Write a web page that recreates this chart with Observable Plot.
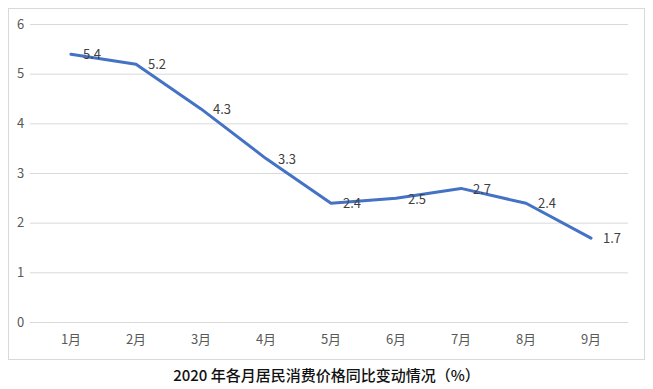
<!DOCTYPE html>
<html><head><meta charset="utf-8">
<script src="https://cdn.jsdelivr.net/npm/d3@7"></script>
<script src="https://cdn.jsdelivr.net/npm/@observablehq/plot@0.6"></script>
<style>
body{margin:0;background:#fff;font-family:"Noto Sans CJK SC","Noto Sans",sans-serif;}
#wrap{position:relative;width:653px;height:389px;overflow:hidden;}
#border{position:absolute;left:8px;top:8px;width:635px;height:350px;border:1px solid #d9d9d9;pointer-events:none;}
#caption{position:absolute;left:0;top:365px;width:653px;text-align:center;font-size:15px;font-weight:500;color:#111;line-height:20px;}
</style></head>
<body>
<div id="wrap"><div id="chart"></div><div id="border"></div>
<div id="caption">2020 年各月居民消费价格同比变动情况（%）</div></div>
<script>
const months = ["1月","2月","3月","4月","5月","6月","7月","8月","9月"];
const cpi = [5.4, 5.2, 4.3, 3.3, 2.4, 2.5, 2.7, 2.4, 1.7];
const yTicks = [0,1,2,3,4,5,6];
const data = months.map((m,i)=>({month:m, value:cpi[i]}));
const chart = Plot.plot({
  width:653, height:360,
  marginLeft:35, marginRight:27, marginTop:24, marginBottom:38,
  style:{fontFamily:'"Noto Sans CJK SC","Noto Sans",sans-serif', fontSize:"12px", color:"#595959", background:"transparent"},
  x:{type:"band", domain:months, padding:0, label:null},
  y:{domain:[0,6], label:null},
  marks:[
    Plot.ruleY(yTicks,{stroke:"#d9d9d9", strokeWidth:1, insetLeft:-5, insetRight:-2}),
    Plot.axisY({ticks:yTicks, tickFormat:d=>String(d), tickSize:0, tickPadding:0, textAnchor:"middle", dx:-15, label:null, fill:"#595959", fontSize:13}),
    Plot.axisX({tickSize:0, tickPadding:12, label:null, fill:"#595959", fontSize:13}),
    Plot.line(data,{x:"month", y:"value", stroke:"#4472C4", strokeWidth:3, strokeLinejoin:"round", strokeLinecap:"round"}),
    Plot.text(data,{x:"month", y:"value", text:d=>d.value.toFixed(1), textAnchor:"start", dx:12, dy:1, fill:"#404040", fontSize:13})
  ]
});
document.getElementById("chart").appendChild(chart);
</script>
</body></html>
